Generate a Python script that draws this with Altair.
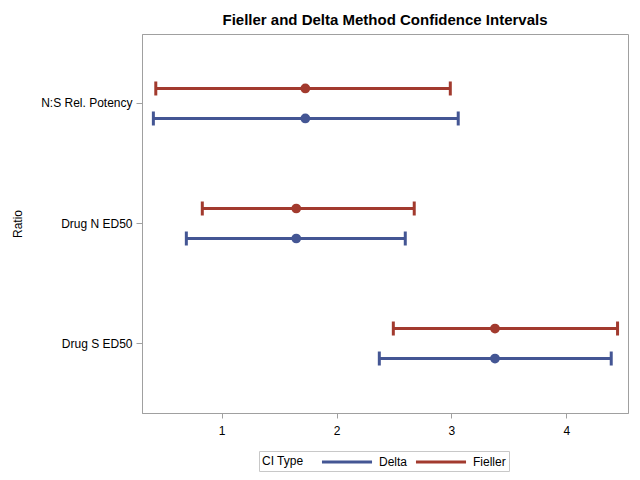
import altair as alt
import pandas as pd

categories = ["N:S Rel. Potency", "Drug N ED50", "Drug S ED50"]
estimate = [1.728, 1.649, 3.379]
delta_lower = [0.405, 0.692, 2.372]
delta_upper = [3.059, 2.598, 4.391]
fieller_lower = [0.426, 0.831, 2.494]
fieller_upper = [2.990, 2.676, 4.446]
ci_types = ["Delta", "Fieller"]
colors = ["#445694", "#A23A2E"]

rows = []
for i, c in enumerate(categories):
    rows.append({"Ratio": c, "CI Type": "Delta", "est": estimate[i], "lo": delta_lower[i], "hi": delta_upper[i]})
    rows.append({"Ratio": c, "CI Type": "Fieller", "est": estimate[i], "lo": fieller_lower[i], "hi": fieller_upper[i]})
df = pd.DataFrame(rows)

legend = alt.Legend(
    title="CI Type", orient="none", legendX=117, legendY=417, direction="horizontal",
    titleOrient="left", symbolType="M-3.85,0H3.85", symbolSize=169, symbolStrokeWidth=3,
    strokeColor="#c8c8c8", fillColor="white", padding=3, labelFontSize=12,
    titleFontSize=12, titleFontWeight="normal", titleColor="black", labelColor="black",
    labelFont="Liberation Sans", titleFont="Liberation Sans",
    columnPadding=1, labelOffset=24, titlePadding=35,
)
color = alt.Color("CI Type:N", scale=alt.Scale(domain=ci_types, range=colors), legend=legend)

y = alt.Y("Ratio:N", sort=categories, title="Ratio",
          scale=alt.Scale(paddingInner=0, paddingOuter=0.079),
          axis=alt.Axis(labelFontSize=12, titleFontSize=12, titleFontWeight="normal",
                        labelFont="Liberation Sans", titleFont="Liberation Sans",
                        labelColor="black", titleColor="black", tickColor="#a0a0a0",
                        domainColor="#a0a0a0", tickSize=6, labelPadding=4, titlePadding=16))
yoff = alt.YOffset("CI Type:N", sort=["Fieller", "Delta"],
                   scale=alt.Scale(paddingInner=0, paddingOuter=1))
xaxis = alt.Axis(values=[1, 2, 3, 4], labelFontSize=12, labelFont="Liberation Sans",
                 labelColor="black", tickColor="#a0a0a0", domainColor="#a0a0a0",
                 tickSize=5, labelPadding=7, grid=False, title=None, format="d")
xscale = alt.Scale(domain=[0.306, 4.537], nice=False, zero=False)

base = alt.Chart(df)
rules = base.mark_rule(strokeWidth=3).encode(
    x=alt.X("lo:Q", scale=xscale, axis=xaxis), x2="hi:Q", y=y, yOffset=yoff, color=color)
lo_caps = base.mark_tick(size=14, thickness=3, opacity=1).encode(
    x=alt.X("lo:Q", scale=xscale), y=y, yOffset=yoff, color=color)
hi_caps = base.mark_tick(size=14, thickness=3, opacity=1).encode(
    x=alt.X("hi:Q", scale=xscale), y=y, yOffset=yoff, color=color)
pts = base.mark_circle(size=95, opacity=1).encode(
    x=alt.X("est:Q", scale=xscale), y=y, yOffset=yoff, color=color)

chart = alt.layer(rules, lo_caps, hi_caps, pts).properties(
    width=486, height=379,
    autosize=alt.AutoSizeParams(type="none"),
    padding={"left": 134, "top": 26, "right": 4, "bottom": 59},
    title=alt.TitleParams("Fieller and Delta Method Confidence Intervals", fontSize=15,
                          fontWeight="bold", font="Liberation Sans", color="black", offset=6),
).configure_view(stroke="#a0a0a0", strokeWidth=1).configure_axis(grid=False)

chart.save("out.html", embed_options={"renderer": "svg", "actions": False})
